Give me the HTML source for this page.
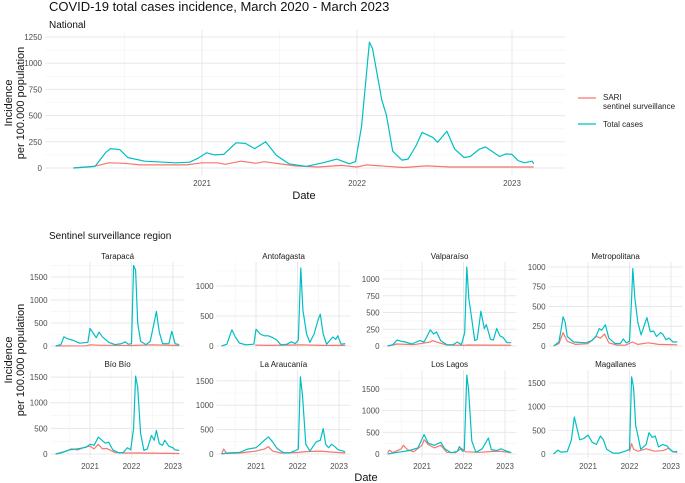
<!DOCTYPE html>
<html><head><meta charset="utf-8">
<style>
body{margin:0;background:#fff;font-family:"Liberation Sans",sans-serif;}
svg{display:block}
</style></head>
<body>
<svg id="chart" width="685" height="483" viewBox="0 0 685 483" xmlns="http://www.w3.org/2000/svg" font-family="Liberation Sans, sans-serif">
<text x="49" y="11" font-size="13" fill="#111">COVID-19 total cases incidence, March 2020 - March 2023</text>
<text x="49" y="28" font-size="10" fill="#111">National</text>
<text x="49" y="239" font-size="10" fill="#111">Sentinel surveillance region</text>
<text x="304" y="199" font-size="11" text-anchor="middle" fill="#111">Date</text>
<text x="366" y="481" font-size="11" text-anchor="middle" fill="#111">Date</text>
<g transform="translate(12,103) rotate(-90)" font-size="11" fill="#111" text-anchor="middle"><text y="0">Incidence</text><text y="12">per 100.000 population</text></g>
<g transform="translate(12,360) rotate(-90)" font-size="11" fill="#111" text-anchor="middle"><text y="0">Incidence</text><text y="12">per 100.000 population</text></g>
<g>
<line x1="578" x2="596" y1="98" y2="98" stroke="#F8766D" stroke-width="1.3"/>
<text x="603" y="100" font-size="8" fill="#222">SARI</text>
<text x="603" y="109" font-size="8" fill="#222">sentinel surveillance</text>
<line x1="578" x2="596" y1="124" y2="124" stroke="#00BFC4" stroke-width="1.3"/>
<text x="603" y="127" font-size="8" fill="#222">Total cases</text>
</g>
<g id="plots"></g>
</svg>
<script>
const natTotalT=[2020.17,2020.31,2020.38,2020.41,2020.47,2020.52,2020.63,2020.83,2020.92,2020.97,2021.03,2021.08,2021.14,2021.22,2021.28,2021.34,2021.41,2021.48,2021.56,2021.67,2021.78,2021.87,2021.95,2021.99,2022.03,2022.08,2022.1,2022.16,2022.19,2022.23,2022.29,2022.33,2022.38,2022.42,2022.49,2022.52,2022.58,2022.63,2022.69,2022.73,2022.79,2022.83,2022.92,2022.96,2023.0,2023.04,2023.08,2023.13,2023.14];
const natTotalV=[0,15,150,185,175,100,65,50,55,90,145,125,130,240,235,185,250,120,40,15,50,85,40,60,400,1200,1140,650,500,160,75,85,210,340,290,245,350,180,100,110,180,200,110,135,130,70,50,65,40];
const natSariT=[2020.17,2020.3,2020.4,2020.5,2020.6,2020.9,2021.0,2021.1,2021.15,2021.25,2021.35,2021.4,2021.6,2021.75,2021.9,2022.0,2022.06,2022.15,2022.3,2022.45,2022.6,2023.14];
const natSariV=[0,15,50,45,30,30,50,50,35,65,45,60,20,10,25,10,30,20,5,20,10,10];
const natTicks=[0,250,500,750,1000,1250];
const yearTicks=[2021,2022,2023];

const facetNames=["Tarapacá","Antofagasta","Valparaíso","Metropolitana","Bío Bío","La Araucanía","Los Lagos","Magallanes"];
const facetMax=[1760,1350,1210,1025,1580,1660,1870,1710];
const facetTicks=[[0,500,1000,1500],[0,500,1000],[0,250,500,750,1000],[0,250,500,750,1000],[0,500,1000,1500],[0,500,1000,1500],[0,500,1000,1500],[0,500,1000,1500]];
const totT0=[2020.17,2020.3,2020.37,2020.45,2020.6,2020.75,2020.95,2021.0,2021.1,2021.15,2021.22,2021.3,2021.45,2021.6,2021.75,2021.85,2021.92,2022.0,2022.05,2022.1,2022.15,2022.22,2022.35,2022.45,2022.52,2022.6,2022.67,2022.75,2022.9,2022.97,2023.05,2023.15];
const totV0=[0,30,200,160,120,60,80,380,250,180,300,200,80,30,50,90,40,50,1750,1650,500,100,30,100,400,750,300,50,50,320,50,30];
const sarT0=[2020.17,2020.9,2021.0,2021.3,2021.6,2022.0,2022.5,2023.15];
const sarV0=[0,5,25,15,15,10,25,10];
const totT1=[2020.17,2020.3,2020.42,2020.5,2020.6,2020.75,2020.95,2021.0,2021.1,2021.2,2021.3,2021.4,2021.5,2021.6,2021.75,2021.85,2021.95,2022.02,2022.08,2022.13,2022.22,2022.3,2022.4,2022.5,2022.55,2022.62,2022.7,2022.85,2022.92,2022.97,2023.05,2023.15];
const totV1=[0,30,270,150,50,20,30,280,200,170,170,140,100,20,30,70,40,100,1300,600,200,60,200,450,530,200,30,150,110,170,30,40];
const sarT1=[2020.98,2021.3,2021.7,2022.1,2022.6,2023.15];
const sarV1=[15,10,15,20,10,10];
const totT2=[2020.17,2020.3,2020.4,2020.5,2020.6,2020.75,2020.95,2021.05,2021.2,2021.28,2021.35,2021.45,2021.6,2021.75,2021.85,2021.95,2022.03,2022.08,2022.13,2022.2,2022.27,2022.33,2022.42,2022.5,2022.55,2022.65,2022.72,2022.8,2022.88,2022.95,2023.05,2023.15];
const totV2=[0,20,90,70,60,30,80,60,240,180,210,80,20,20,60,20,200,1180,700,400,80,100,520,260,320,100,90,260,150,130,50,50];
const sarT2=[2020.17,2020.4,2020.8,2021.2,2021.25,2021.4,2021.6,2022.0,2022.1,2023.15];
const sarV2=[0,30,20,60,80,50,15,10,15,10];
const totT3=[2020.17,2020.3,2020.35,2020.4,2020.45,2020.5,2020.65,2020.95,2021.1,2021.2,2021.27,2021.33,2021.42,2021.5,2021.65,2021.78,2021.85,2021.92,2022.0,2022.05,2022.08,2022.13,2022.2,2022.28,2022.35,2022.42,2022.5,2022.58,2022.65,2022.75,2022.8,2022.88,2022.95,2023.05,2023.15];
const totV3=[0,50,200,370,300,120,50,40,70,130,220,200,270,100,30,30,90,40,60,600,980,600,300,140,250,360,180,190,120,170,150,80,100,50,50];
const sarT3=[2020.17,2020.3,2020.4,2020.5,2020.7,2021.0,2021.2,2021.3,2021.4,2021.5,2021.7,2021.9,2022.07,2022.2,2022.45,2022.7,2023.15];
const sarV3=[0,30,170,60,20,30,120,100,150,40,10,10,50,20,40,20,15];
const totT4=[2020.17,2020.3,2020.5,2020.7,2020.9,2021.0,2021.1,2021.2,2021.3,2021.37,2021.45,2021.55,2021.7,2021.8,2021.9,2021.98,2022.05,2022.1,2022.15,2022.22,2022.3,2022.38,2022.48,2022.55,2022.6,2022.67,2022.75,2022.8,2022.9,2023.0,2023.05,2023.15];
const totV4=[0,20,80,100,130,190,170,330,260,210,230,80,20,30,120,80,500,1520,1300,400,70,100,360,270,460,200,170,270,150,120,80,70];
const sarT4=[2020.17,2020.4,2020.55,2020.7,2020.9,2021.0,2021.1,2021.2,2021.3,2021.4,2021.6,2021.8,2022.0,2022.2,2023.15];
const sarV4=[0,50,100,80,140,150,100,190,100,110,30,20,20,20,10];
const totT5=[2020.17,2020.3,2020.6,2020.8,2021.0,2021.1,2021.2,2021.3,2021.4,2021.5,2021.65,2021.8,2021.95,2022.02,2022.07,2022.12,2022.2,2022.3,2022.45,2022.55,2022.62,2022.68,2022.75,2022.82,2022.9,2022.97,2023.1,2023.15];
const totV5=[0,20,30,100,130,200,280,350,250,120,30,20,70,100,1580,1200,200,60,250,280,520,200,130,200,150,90,60,40];
const sarT5=[2020.17,2020.22,2020.3,2020.6,2021.0,2021.2,2021.3,2021.4,2021.6,2022.0,2022.2,2022.55,2022.8,2023.15];
const sarV5=[0,100,10,20,60,100,150,60,20,30,50,60,40,20];
const totT6=[2020.17,2020.35,2020.5,2020.7,2020.9,2021.05,2021.15,2021.3,2021.45,2021.55,2021.7,2021.85,2021.9,2021.98,2022.02,2022.08,2022.12,2022.2,2022.3,2022.45,2022.6,2022.67,2022.8,2022.9,2023.0,2023.15];
const totV6=[0,30,50,80,140,450,250,200,270,120,30,60,170,60,100,1820,1500,300,40,120,370,100,80,120,80,30];
const sarT6=[2020.17,2020.22,2020.3,2020.5,2020.55,2020.65,2020.8,2021.0,2021.05,2021.15,2021.3,2021.45,2021.6,2021.8,2021.95,2022.05,2022.4,2022.7,2022.9,2023.15];
const sarV6=[30,90,30,120,200,100,50,200,330,220,140,200,40,30,130,50,40,60,60,30];
const totT7=[2020.17,2020.27,2020.35,2020.5,2020.6,2020.67,2020.72,2020.8,2020.9,2021.0,2021.1,2021.2,2021.3,2021.37,2021.45,2021.6,2021.75,2021.9,2022.0,2022.05,2022.1,2022.15,2022.2,2022.27,2022.4,2022.47,2022.55,2022.62,2022.7,2022.8,2022.9,2022.97,2023.05,2023.15];
const totV7=[0,80,40,50,300,780,600,300,330,400,250,200,380,300,100,20,20,60,100,1630,1400,600,400,100,200,450,350,380,150,200,170,100,40,60];
const sarT7=[2022.0,2022.05,2022.1,2022.2,2022.4,2022.6,2022.8,2022.95,2023.05,2023.15];
const sarV7=[50,220,100,60,110,60,70,120,50,30];
const facetTotT=[totT0,totT1,totT2,totT3,totT4,totT5,totT6,totT7];
const facetTotV=[totV0,totV1,totV2,totV3,totV4,totV5,totV6,totV7];
const facetSarT=[sarT0,sarT1,sarT2,sarT3,sarT4,sarT5,sarT6,sarT7];
const facetSarV=[sarV0,sarV1,sarV2,sarV3,sarV4,sarV5,sarV6,sarV7];

const NS="http://www.w3.org/2000/svg";
const root=document.getElementById('plots');
function mk(tag,attrs,parent){const e=document.createElementNS(NS,tag);for(const k in attrs)e.setAttribute(k,attrs[k]);(parent||root).appendChild(e);return e;}
function panel(g,left,right,top,bottom,xs,ys,ticks,ymax,showX,tickSize){
  // minor grid
  for(let i=0;i<ticks.length;i++){const m=ticks[i]+(ticks[1]-ticks[0])/2;if(m<=ymax){const l=mk('line',{x1:left,x2:right,y1:ys(m),y2:ys(m),stroke:'#f3f3f3','stroke-width':0.6},g);}}
  for(let y=2020.5;y<2023.3;y+=1){const l=mk('line',{x1:xs(y),x2:xs(y),y1:top,y2:bottom,stroke:'#f3f3f3','stroke-width':0.6},g);}
  ticks.forEach(v=>{const l=mk('line',{x1:left,x2:right,y1:ys(v),y2:ys(v),stroke:'#e8e8e8','stroke-width':1},g);
    const t=mk('text',{x:left-3,y:ys(v)+3,'font-size':tickSize,'text-anchor':'end',fill:'#4d4d4d'},g);t.textContent=v;});
  yearTicks.forEach(yr=>{const l=mk('line',{x1:xs(yr),x2:xs(yr),y1:top,y2:bottom,stroke:'#e8e8e8','stroke-width':1},g);
    if(showX){const t=mk('text',{x:xs(yr),y:bottom+11,'font-size':tickSize,'text-anchor':'middle',fill:'#4d4d4d'},g);t.textContent=yr;}});
}
function series(g,T,V,xs,ys,color,name){
  const d=T.map((t,i)=>(i?'L':'M')+xs(t).toFixed(1)+','+ys(V[i]).toFixed(1)).join('');
  const p=mk('path',{d:d,fill:'none',stroke:color,'stroke-width':1.2,'stroke-linejoin':'round'},g);
  
  
}
// National
const gN=mk('g',{});


const nx=t=>202+(t-2021)*155, ny=v=>168-v*0.1048;
panel(gN,45,565,30,175,nx,ny,natTicks,1300,true,8);
series(gN,natSariT,natSariV,nx,ny,'#F8766D','national-sari-line');
series(gN,natTotalT,natTotalV,nx,ny,'#00BFC4','national-total-line');
// Facets
facetNames.forEach((nm,i)=>{
  const c=i%4,r=Math.floor(i/4);
  const g=mk('g',{});
  
  
  const x0=90+166*c, zero=r?454:346, topY=r?373:265;
  const xs=t=>x0+(t-2021)*41.5, ys=v=>zero-v*(zero-topY)/facetMax[i];
  panel(g,xs(2020.05),xs(2023.28),topY-3,zero+4,xs,ys,facetTicks[i],facetMax[i],r===1,8);
  const st=mk('text',{x:(xs(2020.05)+xs(2023.28))/2,y:topY-6,'font-size':8,'text-anchor':'middle',fill:'#1a1a1a'},g);
  st.textContent=nm;
  
  
  series(g,facetSarT[i],facetSarV[i],xs,ys,'#F8766D','facet-sari-line');
  series(g,facetTotT[i],facetTotV[i],xs,ys,'#00BFC4','facet-total-line');
});
</script>
</body></html>
